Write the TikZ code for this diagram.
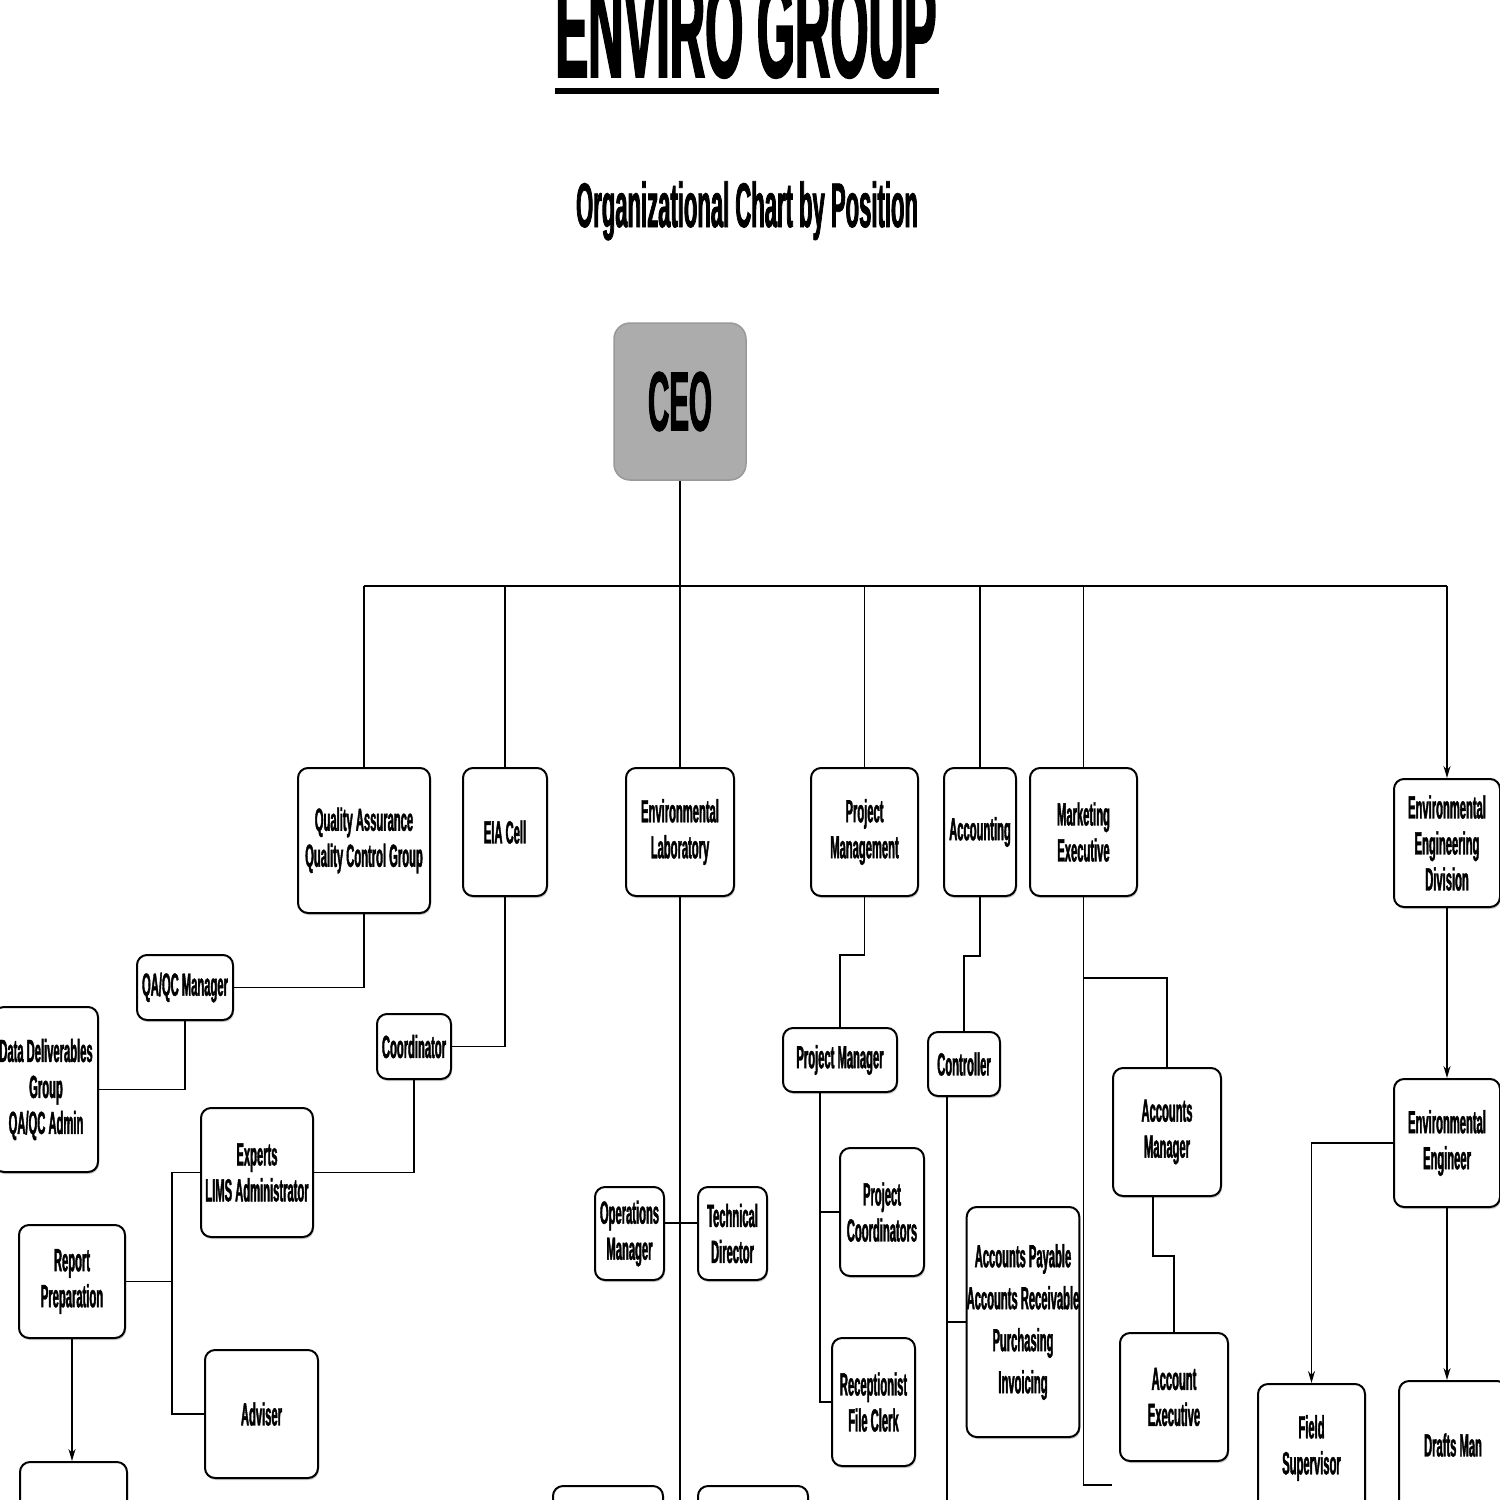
\documentclass[tikz,border=0pt]{standalone}
\usepackage{fontspec}
\newfontfamily\nf{Liberation Sans}[FakeStretch=0.35,FakeBold=1.2]
\usetikzlibrary{arrows.meta,shadows}
\tikzset{
  box/.style={draw=black, line width=2pt, rounded corners=10pt, fill=white,
    align=center, inner sep=0pt,
    font=\nf\bfseries\fontsize{32}{36}\selectfont,
    drop shadow={shadow xshift=1pt,shadow yshift=-2pt,fill=black!40}},
  ceobox/.style={draw=gray!80, line width=1.5pt, rounded corners=16pt, fill=gray!65,
    inner sep=0pt, font=\nf\bfseries\fontsize{84}{90}\selectfont},
  conn/.style={line width=1.6pt},
  arr/.style={conn, -{Stealth[length=12pt,width=7pt]}},
  titletext/.style={font=\nf\bfseries\fontsize{140}{150}\selectfont, inner sep=0pt},
  subtext/.style={font=\nf\bfseries\fontsize{63}{70}\selectfont, inner sep=0pt},
}
\newcommand\mkbox[6]{\node[box,minimum width={((#4)-(#2))*1pt},minimum height={((#5)-(#3))*1pt}] (#1) at ({((#2)+(#4))/2},{((#3)+(#5))/2}) {#6};}
\begin{document}
\begin{tikzpicture}[x=1pt,y=-1pt]
\useasboundingbox (0,0) rectangle (1500,1500);
\clip (0,0) rectangle (1500,1500);
\fill[white] (0,0) rectangle (1500,1500);

% titles
\node[titletext, anchor=base] (title) at (746,77) {ENVIRO GROUP};
\fill (555,88) rectangle (939,94);
\node[subtext, anchor=base] (sub) at (747,227) {Organizational Chart by Position};

% CEO
\node[ceobox, minimum width=132pt, minimum height=157pt] (ceo) at (680,401.5) {CEO};

% level 2
\mkbox{qaqc}{298}{768}{430}{913}{Quality Assurance\\Quality Control Group}
\mkbox{eia}{463}{768}{547}{896}{EIA Cell}
\mkbox{lab}{626}{768}{734}{896}{Environmental\\Laboratory}
\mkbox{pm}{811}{768}{918}{896}{Project\\Management}
\mkbox{acc}{944}{768}{1016}{896}{Accounting}
\mkbox{mk}{1030}{768}{1137}{896}{Marketing\\Executive}
\mkbox{eed}{1394}{779}{1500}{907}{Environmental\\Engineering\\Division}

% QA/QC branch
\mkbox{qmgr}{137}{955}{233}{1020}{QA/QC Manager}
\mkbox{ddg}{-6}{1007}{98}{1172}{Data Deliverables\\Group\\QA/QC Admin}
\mkbox{coord}{377}{1014}{451}{1079}{Coordinator}
\mkbox{exp}{201}{1108}{313}{1237}{Experts\\LIMS Administrator}
\mkbox{rp}{19}{1225}{125}{1338}{Report\\Preparation}
\mkbox{adv}{205}{1350}{318}{1478}{Adviser}
\mkbox{rp2}{20}{1462}{127}{1580}{}

% lab branch
\mkbox{ops}{595}{1187}{664}{1280}{Operations\\Manager}
\mkbox{tech}{698}{1187}{767}{1280}{Technical\\Director}
\mkbox{labA}{553}{1486}{663}{1600}{}
\mkbox{labB}{698}{1486}{808}{1600}{}

% project management branch
\mkbox{pmgr}{783}{1028}{897}{1092}{Project Manager}
\mkbox{pc}{840}{1148}{924}{1276}{Project\\Coordinators}
\mkbox{rec}{832}{1338}{915}{1466}{Receptionist\\File Clerk}

% accounting branch
\mkbox{ctrl}{928}{1032}{1000}{1096}{Controller}
\mkbox{ap}{968}{1207}{1078}{1437}{Accounts Payable\\[6pt]Accounts Receivable\\[6pt]Purchasing\\[6pt]Invoicing}

% marketing branch
\mkbox{am}{1113}{1068}{1221}{1196}{Accounts\\Manager}
\mkbox{ae}{1120}{1333}{1228}{1461}{Account\\Executive}

% engineering branch
\mkbox{eng}{1394}{1079}{1500}{1207}{Environmental\\Engineer}
\mkbox{fs}{1258}{1384}{1365}{1512}{Field\\Supervisor}
\mkbox{dm}{1399}{1381}{1507}{1509}{Drafts Man}

% helper coordinates
\coordinate (bus) at (0,586);
\coordinate (tx) at (172,0);
\coordinate (j1) at (0,955);
\coordinate (pmx) at (820,0);
\coordinate (j2) at (0,956);
\coordinate (ctrlend) at (947,1510);
\coordinate (labend) at (680,1510);
\coordinate (j3) at (0,978);
\coordinate (j4) at (1153,1256);
\coordinate (j5) at (0,1223);
\coordinate (mkend) at (1112,1485);

% CEO and bus
\draw[conn] (ceo.south) -- (lab.north);
\draw[conn] (qaqc.north |- bus) -- (eed.north |- bus);
\draw[conn] (qaqc.north) -- (qaqc.north |- bus);
\draw[conn] (eia.north) -- (eia.north |- bus);
\draw[conn] (pm.north) -- (pm.north |- bus);
\draw[conn] (acc.north) -- (acc.north |- bus);
\draw[conn] (mk.north) -- (mk.north |- bus);
\draw[arr] (eed.north |- bus) -- (eed.north);

% QA/QC branch
\draw[conn] (qaqc.south) |- (qmgr.east);
\draw[conn] (qmgr.south) |- (ddg.east);
\draw[conn] (eia.south) |- (coord.east);
\draw[conn] (coord.south) |- (exp.east);
\draw[conn] (exp.west) -- (exp.west -| tx) |- (adv.west);
\draw[conn] (rp.east) -- (rp.east -| tx);
\draw[arr] (rp.south) -- (rp.south |- rp2.north);

% lab branch
\draw[conn] (lab.south) -- (labend);
\draw[conn] (ops.east |- j5) -- (tech.west |- j5);

% PM branch
\draw[conn] (pm.south) -- (pm.south |- j1) -| (pmgr.north);
\draw[conn] (pmgr.south -| pmx) |- (rec.west);
\draw[conn] (pc.west) -- (pc.west -| pmx);

% accounting branch
\draw[conn] (acc.south) -- (acc.south |- j2) -| (ctrl.north);
\draw[conn] (ctrl.south -| ctrlend) -- (ctrlend);
\draw[conn] (ap.west) -- (ap.west -| ctrlend);

% marketing branch
\draw[conn] (mk.south) |- (mkend);
\draw[conn] (mk.south |- j3) -| (am.north);
\draw[conn] (j4 |- am.south) -- (j4) -| (ae.north);

% engineering branch
\draw[arr] (eed.south) -- (eng.north);
\draw[arr] (eng.west) -| (fs.north);
\draw[arr] (eng.south) -- (eng.south |- dm.north);
\end{tikzpicture}
\end{document}
